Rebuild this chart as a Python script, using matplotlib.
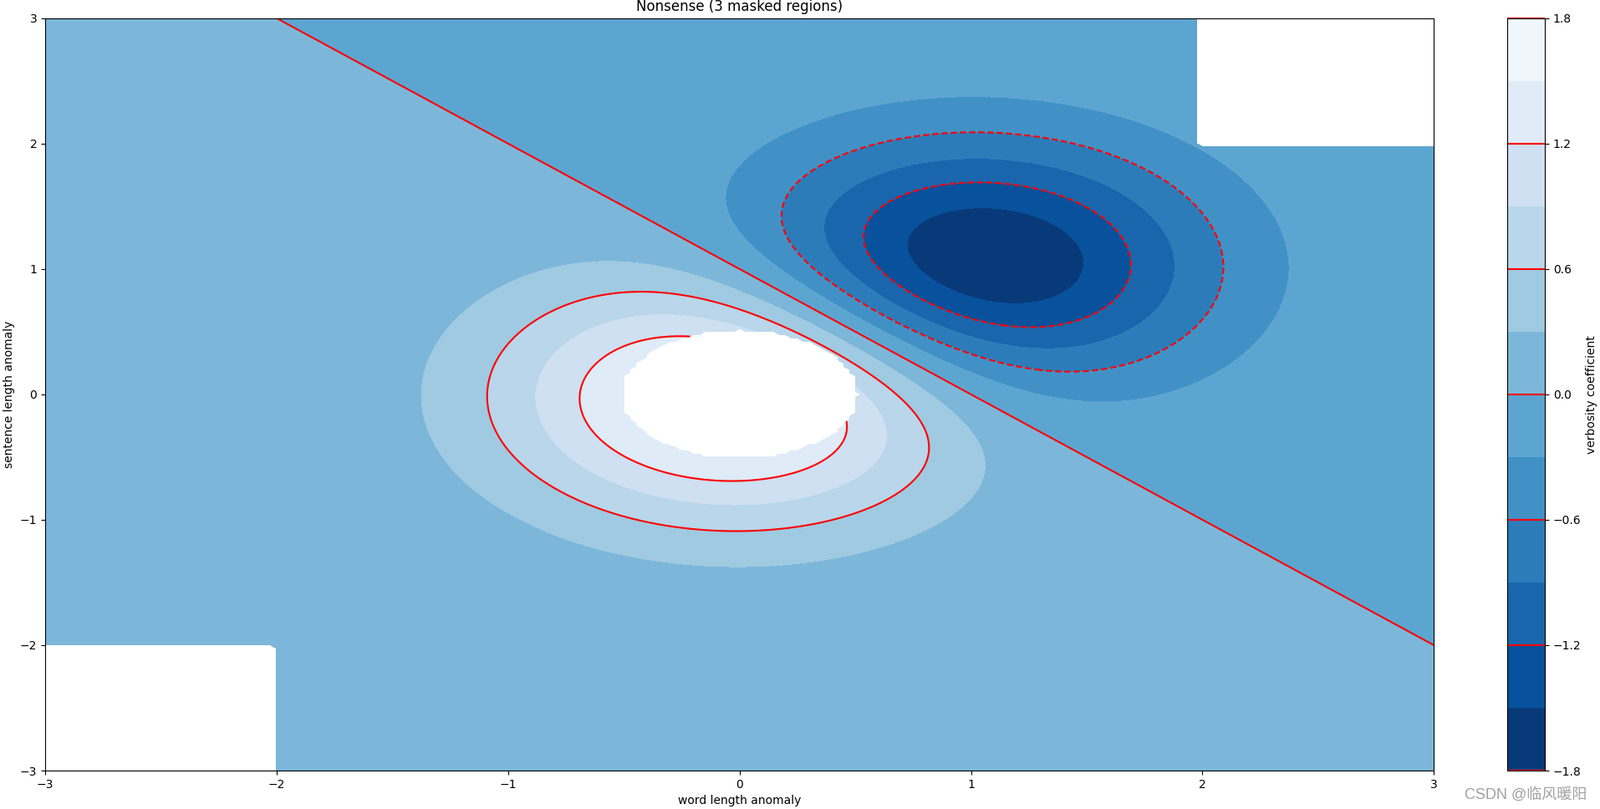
import numpy as np
import matplotlib
matplotlib.use('Agg')
import matplotlib.pyplot as plt

# grid and the two gaussian bumps
delta = 0.025
x_range = [-3.0, 3.01]
bump_pos = [0.0, 0.0]   # centre of the positive bump
bump_neg = [1.0, 1.0]   # centre of the negative bump
scale = 2.0
n_levels = 10
circle_r = 0.5          # masked circle in the middle

x = y = np.arange(x_range[0], x_range[1], delta)
X, Y = np.meshgrid(x, y)
Z1 = np.exp(-(X - bump_pos[0])**2 - (Y - bump_pos[1])**2)
Z2 = np.exp(-(X - bump_neg[0])**2 - (Y - bump_neg[1])**2)
Z = (Z1 - Z2) * scale

nr, nc = Z.shape
# NaNs in one corner
Z[-nr // 6:, -nc // 6:] = np.nan
Z = np.ma.array(Z)
# mask the other corner
Z[:nr // 6, :nc // 6] = np.ma.masked
# mask a circle in the middle
interior = np.sqrt(X**2 + Y**2) < circle_r
Z[interior] = np.ma.masked

fig = plt.figure(figsize=(19.14, 9.68), dpi=100)
ax = fig.add_axes([0.0282, 0.0475, 0.868, 0.93])
cax = fig.add_axes([0.942, 0.0475, 0.0235, 0.93])

CS = ax.contourf(X, Y, Z, n_levels, cmap='Blues_r', origin='lower')
CS2 = ax.contour(CS, levels=CS.levels[::2], colors='r', origin='lower')
ax.set_title('Nonsense (3 masked regions)')
ax.set_xlabel('word length anomaly')
ax.set_ylabel('sentence length anomaly')

cbar = fig.colorbar(CS, cax=cax)
cbar.ax.set_ylabel('verbosity coefficient')
cbar.add_lines(CS2)

fig.text(0.9916, 0.0124, 'CSDN @临风暖阳', ha='right', va='baseline', fontsize=13,
         color='#a0a0a0', family=['Liberation Sans', 'Noto Sans CJK SC'])

fig.savefig('out.png', dpi=100)
